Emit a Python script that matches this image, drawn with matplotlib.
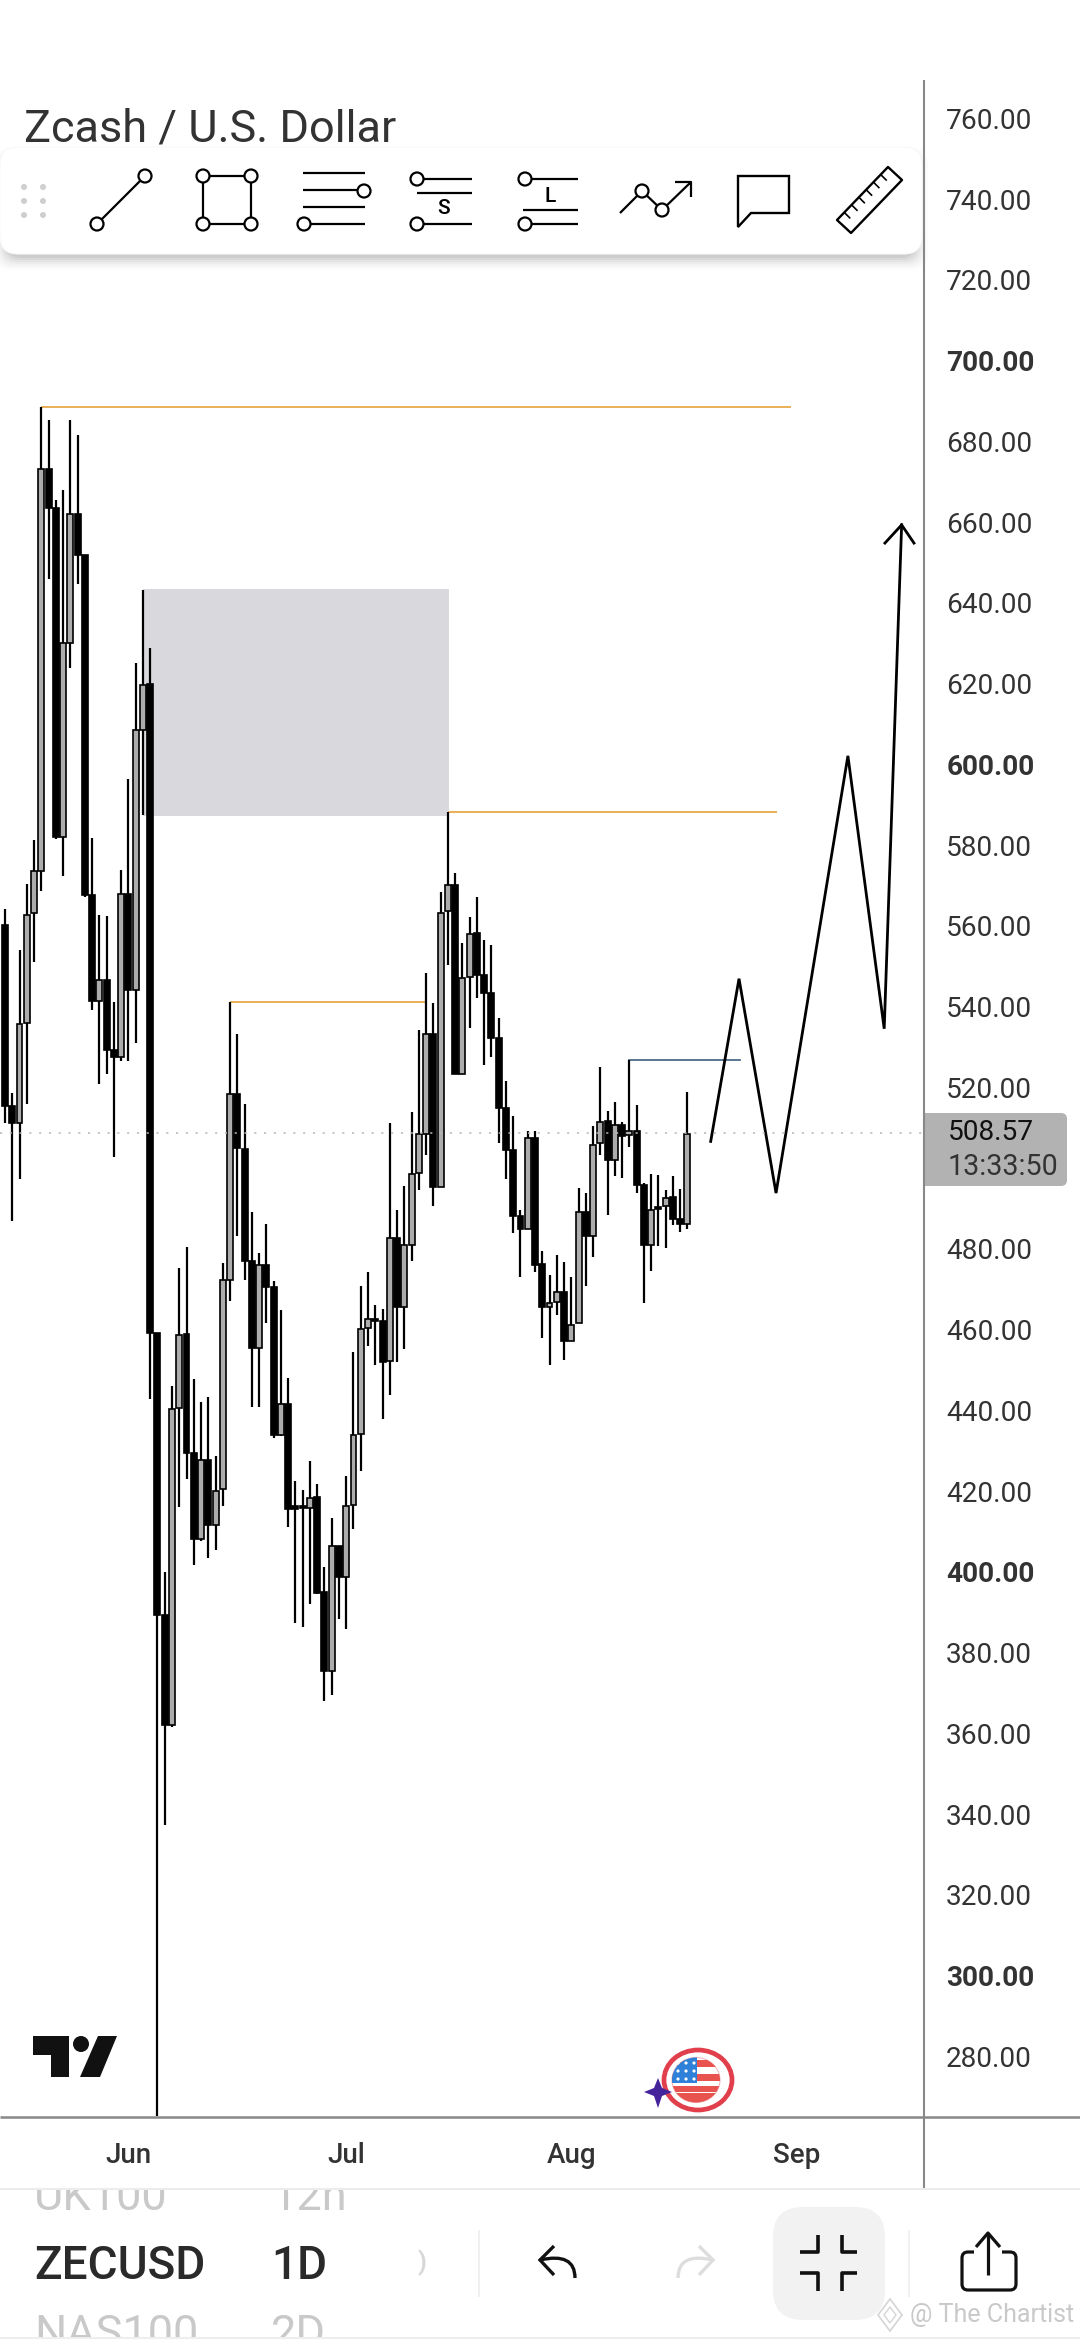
import matplotlib
matplotlib.use('Agg')
import matplotlib.pyplot as plt
from matplotlib.patches import Circle, Ellipse, FancyBboxPatch, PathPatch, Polygon, Rectangle
from matplotlib.path import Path
from matplotlib.transforms import Bbox, TransformedBbox

plt.rcParams['font.family'] = ['Roboto', 'DejaVu Sans']

# daily candles
opens = [560.5, 515.8, 511.6, 536.4, 563.5, 574, 673.5, 664, 582.5, 630.4,
         662.3, 652.2, 568.1, 541.8, 547, 529.7, 527.9, 568.4, 544.4, 609,
         620.4, 459.5, 389.6, 362.4, 441, 459.2, 429.9, 408.6, 428.2, 411.9,
         420.8, 472.6, 518.7, 505.1, 477.3, 455.8, 476.4, 470.9, 434.2, 442,
         416.6, 416.7, 416.1, 418.8, 395.5, 375.9, 406.9, 399.2, 417, 434.5,
         460.9, 463, 462.4, 452.5, 483.1, 466.1, 481.4, 499.2, 508.9, 533.6,
         495.6, 564, 570.6, 523.7, 547.6, 558.6, 548.1, 543.7, 532.7, 515.3,
         504.8, 488.4, 485.2, 507.9, 476.6, 465.9, 467.2, 469.7, 457.6, 461.9,
         489.6, 483.5, 506.5, 512, 502.5, 511.1, 508.7, 509.6, 496.2, 481.4,
         490.8, 491, 493.2, 487.7, 486.6]
highs = [564.5, 519, 554.5, 570.8, 581.6, 689, 685.8, 665.9, 668.4, 685.8,
         682, 652.2, 582.2, 563.2, 562.9, 541.6, 574.3, 596.7, 625.6, 643.5,
         629.3, 459.5, 400.4, 446.3, 475.7, 480.8, 448.1, 442.5, 443.6, 429.2,
         476.9, 541.6, 533.7, 516.3, 489.5, 479.4, 486.5, 472.3, 465.2, 448.4,
         422.8, 420.7, 427.8, 422.1, 401.5, 413.6, 406.9, 424, 454.8, 471.2,
         474.7, 466.5, 465.5, 511.6, 489.9, 496, 514.2, 534.5, 548.7, 541.2,
         568.7, 588.5, 573.4, 556.2, 562.6, 567.5, 556.8, 555.6, 537.6, 521.9,
         513.4, 490.1, 509.6, 509.6, 479.9, 473.8, 478.8, 477.2, 473.5, 495.4,
         494.1, 510.7, 525.5, 514.5, 516.7, 511.8, 527.2, 515.9, 496.7, 498.9,
         498.7, 494.9, 498.4, 495.2, 519.2]
lows = [511.6, 487.4, 497.8, 516.3, 551.4, 569, 646.3, 581.9, 572.7, 624.2,
        645, 567.6, 539.5, 521.1, 523.7, 503.2, 527, 527, 531.3, 587.9,
        443.3, 260, 337.8, 362, 416.4, 423.5, 402.2, 408, 403.8, 405.8,
        416.7, 467.4, 483.6, 472.6, 441.3, 441.3, 461.9, 433.5, 434, 411.5,
        387.7, 386.6, 392.5, 395, 368.5, 369.9, 388.7, 386.3, 411, 425.4,
        456.2, 451.7, 438.2, 444.2, 452.3, 455.6, 477.5, 494.9, 503.7, 491,
        495.6, 550.7, 523.7, 523.7, 535.2, 542.4, 526, 528, 506.5, 497.6,
        484.3, 473.5, 485.2, 474.6, 458.4, 451.7, 463.9, 452.8, 457.6, 461.9,
        471.1, 478.3, 503.7, 488.8, 498.5, 497.9, 505.6, 494.1, 466.9, 474.8,
        481, 480.7, 486.3, 484.6, 485.2]
closes = [515.8, 511.6, 536, 563.2, 574, 673.5, 664, 582.5, 630.4, 662.3,
          652.2, 568.1, 541.8, 547, 529.7, 527.9, 568.4, 544.4, 609, 620,
          459.5, 389.6, 362.4, 440.7, 459.1, 429.9, 408.6, 428.1, 411.9, 420.4,
          472.7, 518.7, 505.3, 477.3, 455.8, 476.3, 470.9, 434.2, 442, 416,
          416, 416.1, 418.7, 395.2, 375.9, 406.8, 399.2, 416.7, 434.3, 460.6,
          462.9, 462.4, 452.4, 483.1, 465.9, 481.3, 498.9, 508.9, 533.6, 495.6,
          563.6, 570.4, 523.7, 547.4, 558.4, 548.1, 543.7, 532.7, 515.3, 504.8,
          488.4, 485.2, 507.9, 476.4, 465.9, 466.9, 469.7, 457.6, 461.5, 489.5,
          483.5, 506.1, 511.8, 502.3, 511.1, 508.4, 509.6, 496.2, 481.4, 490.1,
          490.3, 493, 487.7, 486.6, 508.9]

# 500.00 is hidden behind the price tag in the app
price_ticks = [760, 740, 720, 700, 680, 660, 640, 620, 600, 580, 560, 540, 520,
               480, 460, 440, 420, 400, 380, 360, 340, 320, 300, 280]
bold_ticks = [700, 600, 400, 300]
month_pos = [17, 47, 78, 109]
month_names = ['Jun', 'Jul', 'Aug', 'Sep']

# drawings on the chart: (x in candles, price)
zone_x = [19, 61.2]
zone_y = [587.6, 643.8]
level_top = ([5, 108.2], [689, 689])
level_mid = ([61, 106.3], [588.5, 588.5])
level_low = ([31, 58], [541.6, 541.6])
level_blue = ([86, 101.2], [527.2, 527.2])
path_x = [97.2, 101.1, 106.2, 116.1, 121.1, 123.5]
path_y = [507, 547.3, 494.2, 602.5, 534.9, 659.7]
head_x = [121.2, 123.5, 125.2]
head_y = [655.2, 659.7, 655.2]
dotted_price = 509.2

W, H = 1080, 2340
fig = plt.figure(figsize=(W / 100, H / 100), dpi=100, facecolor='white')

# chart panel
ax = fig.add_axes([0, 1 - 2116 / H, 924 / W, (2116 - 80) / H])
ax.set_xlim(-0.689, 126.58)
ax.set_ylim(265.6, 769.9)
for s in ax.spines.values():
    s.set_visible(False)

ax.add_patch(Rectangle((zone_x[0], zone_y[0]), zone_x[1] - zone_x[0], zone_y[1] - zone_y[0],
                       color='#d9d9dd', lw=0, zorder=1))

days = list(range(len(opens)))
ax.vlines(days, lows, highs, color='black', lw=1.6, zorder=3)
for d, o, c in zip(days, opens, closes):
    fc = '#acacac' if c > o else 'black'
    ax.bar(d, abs(c - o), bottom=min(o, c), width=0.82, color=fc, edgecolor='black',
           linewidth=1.2, zorder=4)

for lx, ly in (level_top, level_mid, level_low):
    ax.plot(lx, ly, color='#e6a23c', lw=1.2, zorder=2, solid_capstyle='butt')
ax.plot(level_blue[0], level_blue[1], color='#4d6b8a', lw=1.3, zorder=2)
ax.plot(path_x, path_y, color='black', lw=2, zorder=5, solid_joinstyle='miter')
ax.plot(head_x, head_y, color='black', lw=2, zorder=5, solid_joinstyle='miter')
ax.axhline(dotted_price, color='#b8b8b8', lw=1.1, dashes=(1.4, 5), zorder=6)

ax.yaxis.tick_right()
ax.set_yticks(price_ticks)
ax.set_yticks([])
ax.set_xticks(month_pos)
ax.set_xticklabels(month_names, fontsize=20, color='#333333', fontweight='medium')
ax.tick_params(axis='both', length=0)
ax.tick_params(axis='x', pad=19)

# price labels sit in the scale strip right of the chart panel
trans = ax.get_yaxis_transform()
for p in price_ticks:
    ax.annotate('%.2f' % p, xy=(1, p), xycoords=trans, xytext=(16, -1), textcoords='offset points',
                fontsize=20.2, color='#333333', va='center', ha='left', annotation_clip=False,
                fontweight='bold' if p in bold_ticks else 'normal')

# app chrome, in screen pixels
ui = fig.add_axes([0, 0, 1, 1], zorder=10)
ui.set_xlim(0, W)
ui.set_ylim(H, 0)
ui.axis('off')


def line(xs, ys, color='black', lw=1.6, **kw):
    ui.plot(xs, ys, color=color, lw=lw, solid_capstyle=kw.pop('cap', 'butt'), **kw)


def ring(x, y, r=6.5, lw=1.6):
    ui.add_patch(Circle((x, y), r, fc='white', ec='black', lw=lw, zorder=5))


line([924, 924], [80, 2188], color='#888888', lw=1.5)
line([0, 1080], [2117, 2117], color='#888888', lw=1.8)
line([0, 1080], [2189, 2189], color='#ececec', lw=1.5)
line([0, 1080], [2338, 2338], color='#eeeeee', lw=1.5)

ui.text(24, 142, 'Zcash / U.S. Dollar', fontsize=32.5, color='#333333', va='baseline')

# price tag
ui.add_patch(FancyBboxPatch((925, 1113), 142, 73, boxstyle='round,pad=0,rounding_size=6',
                            fc='#b2b2b2', lw=0))
ui.add_patch(Rectangle((925, 1113), 12, 73, fc='#b2b2b2', lw=0))
ui.text(948, 1133, '508.57', fontsize=20.2, color='#111111', va='center')
ui.text(948, 1167, '13:33:50', fontsize=20.6, color='#333333', va='center')

# toolbar
for grow, a in ((12, 0.012), (10, 0.016), (8, 0.02), (6, 0.028), (4, 0.035), (2, 0.045), (0, 0.05)):
    ui.add_patch(FancyBboxPatch((6 - grow, 160 - grow), 910 + 2 * grow, 98 + 2 * grow,
                                boxstyle='round,pad=0,rounding_size=16', fc='black', lw=0, alpha=a))
ui.add_patch(FancyBboxPatch((0, 147), 922, 107, boxstyle='round,pad=0,rounding_size=18',
                            fc='white', ec='#f8f8f8', lw=0.8))
for dx in (24, 43):
    for dy in (187, 201, 215):
        ui.add_patch(Circle((dx, dy), 3, fc='#cfcfcf', lw=0))

line([97, 145], [224, 176])
ring(97, 224)
ring(145, 176)

line([203, 251, 251, 203, 203], [176, 176, 224, 224, 176])
for cx, cy in ((203, 176), (251, 176), (203, 224), (251, 224)):
    ring(cx, cy)

line([303, 365], [173, 173])
line([303, 360], [190, 190])
line([303, 365], [207, 207])
line([304, 365], [224, 224])
ring(364, 191)
ring(304, 224)

line([417, 472], [179, 179])
line([417, 472], [193, 193])
line([417, 472], [224, 224])
ring(417, 179)
ring(417, 224)
ui.text(444, 209, 'S', fontsize=15, fontweight='medium', color='black', ha='center', va='center')

line([525, 578], [179, 179])
line([523, 578], [210, 210])
line([525, 578], [224, 224])
ring(525, 179)
ring(525, 224)
ui.text(550, 196, 'L', fontsize=15, fontweight='medium', color='black', ha='center', va='center')

line([620, 642, 662, 691], [213, 191, 210, 182])
line([675, 691, 691], [182, 182, 197])
ring(642, 191)
ring(662, 210)

ui.add_patch(Polygon([(738, 176), (789, 176), (789, 213), (751, 213), (738, 227)], closed=True,
                     fc='white', ec='black', lw=1.7))

ruler = [(888, 167), (902, 180), (851, 233), (837, 220)]
ui.add_patch(Polygon(ruler, closed=True, fc='white', ec='black', lw=1.7, joinstyle='round'))
for k in range(1, 7):
    t = k / 7
    bx, by = 888 + (837 - 888) * t, 167 + (220 - 167) * t
    line([bx, bx + 6], [by, by + 6], lw=1.2)

# tradingview mark
ui.add_patch(Polygon([(33, 2036), (69, 2036), (69, 2077), (51, 2077), (51, 2055), (33, 2055)],
                     closed=True, fc='#111111', lw=0))
ui.add_patch(Circle((81, 2044), 8, fc='#111111', lw=0))
ui.add_patch(Polygon([(98, 2036), (117, 2036), (100, 2077), (80, 2077)], closed=True,
                     fc='#111111', lw=0))

# flag badge
badge = Ellipse((696, 2080), 48, 45, transform=ui.transData)
ui.add_patch(Ellipse((698, 2080), 68, 60, fc='white', ec='#e23f4c', lw=3.4))
ui.add_patch(Ellipse((696, 2080), 48, 45, fc='white', ec='#f2b8bc', lw=0.8))
for sy, sh in ((2060, 7), (2074, 7), (2086, 6), (2093, 12)):
    st = Rectangle((672, sy), 50, sh, fc='#e8534f', lw=0, zorder=3)
    ui.add_patch(st)
    st.set_clip_path(badge)
canton = Rectangle((672, 2056), 25, 27, fc='#2f80d8', lw=0, zorder=4)
ui.add_patch(canton)
canton.set_clip_path(badge)
for sx, sy in ((678, 2063), (686, 2063), (694, 2063), (678, 2071), (686, 2071), (694, 2071),
               (678, 2079), (686, 2079), (694, 2079)):
    ui.add_patch(Circle((sx, sy), 1.6, fc='white', lw=0, zorder=5))
ui.add_patch(Polygon([(658, 2078), (662, 2088), (672, 2092), (662, 2096), (658, 2108),
                      (654, 2096), (644, 2092), (654, 2088)], closed=True,
                     fc='#45249b', lw=0, zorder=6))

# bottom bar
strip = TransformedBbox(Bbox([[0, 2190], [W, 2337]]), ui.transData)
for tx, ty, s in ((34, 2210, 'UK100'), (271, 2210, '12h'), (34, 2347, 'NAS100'), (271, 2347, '2D')):
    t = ui.text(tx, ty, s, fontsize=32.5, color='#c9c9c9', va='baseline')
    t.set_clip_box(strip)
    t.set_clip_on(True)
ui.text(34, 2279, 'ZECUSD', fontsize=33, fontweight='medium', color='#2a2a2a', va='baseline')
ui.text(271, 2279, '1D', fontsize=33, fontweight='medium', color='#2a2a2a', va='baseline')
ui.text(422, 2263, ')', fontsize=18, fontweight='bold', color='#d8d8d8', ha='center', va='center')
line([479, 479], [2230, 2297], color='#eeeeee', lw=1.2)
line([909, 909], [2230, 2297], color='#eeeeee', lw=1.2)

ui.add_patch(FancyBboxPatch((773, 2207), 112, 113, boxstyle='round,pad=0,rounding_size=30',
                            fc='#f2f2f2', lw=0))

for col, sgn in (('#111111', 1), ('#dddddd', -1)):
    cx = 558 if sgn == 1 else 695
    tip = cx - 18 * sgn
    line([tip + 14 * sgn, tip, tip + 14 * sgn], [2246, 2260, 2275], color=col, lw=2.4,
         solid_joinstyle='miter')
    ui.add_patch(PathPatch(Path([(tip, 2260), (cx + 17 * sgn, 2252), (cx + 17 * sgn, 2278)],
                                [Path.MOVETO, Path.CURVE3, Path.CURVE3]),
                           fc='none', ec=col, lw=2.4))

for vx, hx, y0, y1, ye in ((818, 800, 2235, 2252, 2252), (842, 857, 2235, 2252, 2252),
                           (818, 800, 2291, 2273, 2273), (842, 857, 2291, 2273, 2273)):
    line([vx, vx, hx], [y0, y1, ye], color='#111111', lw=2.6, solid_joinstyle='round')

ui.add_patch(FancyBboxPatch((962, 2252), 54, 38, boxstyle='round,pad=0,rounding_size=6',
                            fc='none', ec='#111111', lw=2.3))
ui.add_patch(Rectangle((974, 2246), 28, 12, fc='white', lw=0, zorder=3))
line([988, 988], [2234, 2275], color='#111111', lw=2.3, zorder=4)
line([976, 988, 1000], [2247, 2233, 2247], color='#111111', lw=2.3, zorder=4)

# watermark
ui.text(910, 2315, '@ The Chartist', fontsize=18, color='#c9c9c9', va='center', zorder=8)
ui.add_patch(Polygon([(890, 2299), (902, 2315), (890, 2331), (878, 2315)], closed=True,
                     fc='none', ec='#d5d5d5', lw=1.2, zorder=8))
ui.add_patch(Polygon([(890, 2307), (896, 2315), (890, 2323), (884, 2315)], closed=True,
                     fc='none', ec='#d5d5d5', lw=1, zorder=8))

fig.savefig('out.png', dpi=100)
